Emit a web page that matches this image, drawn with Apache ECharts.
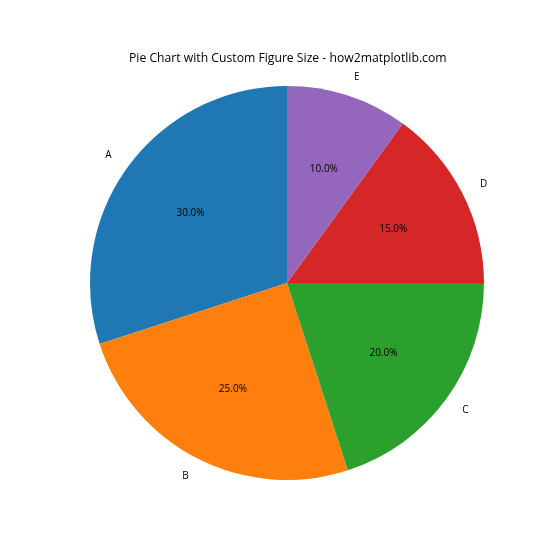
<!DOCTYPE html>
<html><head><meta charset="utf-8">
<script src="https://cdn.jsdelivr.net/npm/echarts@6/dist/echarts.min.js"></script>
<style>html,body{margin:0;padding:0;background:#fff}#c{width:560px;height:560px}</style>
</head><body><div id="c"></div>
<script>
const categories = ['A', 'B', 'C', 'D', 'E'];
const values = [30, 25, 20, 15, 10];
const colors = ['#1f77b4', '#ff7f0e', '#2ca02c', '#d62728', '#9467bd'];
const titleText = 'Pie Chart with Custom Figure Size - how2matplotlib.com';

const total = values.reduce((a, b) => a + b, 0);
const data = categories.map((c, i) => ({ name: c, value: values[i], itemStyle: { color: colors[i] } }));
const R = 197;
const FONT = 'Open Sans';
const chart = echarts.init(document.getElementById('c'), null, { renderer: 'canvas' });
chart.setOption({
  animation: false,
  title: { text: titleText, left: 124, top: 48, textStyle: { fontFamily: FONT, fontSize: 12.2, fontWeight: 'normal', color: '#000' } },
  series: [
    {
      type: 'pie', center: [287, 283], radius: [0, R], startAngle: 90, clockwise: false,
      data: data, silent: true, avoidLabelOverlap: false,
      label: { show: true, position: 'outside', fontFamily: FONT, fontSize: 10, color: '#000', distanceToLabelLine: 0, formatter: '{b}' },
      labelLine: { show: false, length: R * 0.1, length2: 0 },
      itemStyle: { borderWidth: 0 }
    },
    {
      type: 'pie', center: [287, 283], radius: [R * 0.2, R * 0.98], startAngle: 90, clockwise: false,
      data: categories.map((c, i) => ({ name: c, value: values[i] })), silent: true,
      itemStyle: { color: 'rgba(0,0,0,0)', borderWidth: 0 },
      label: { show: true, position: 'inside', fontFamily: FONT, fontSize: 10, color: '#000',
        formatter: p => (p.value / total * 100).toFixed(1) + '%' },
      labelLine: { show: false }
    }
  ]
});
</script></body></html>
